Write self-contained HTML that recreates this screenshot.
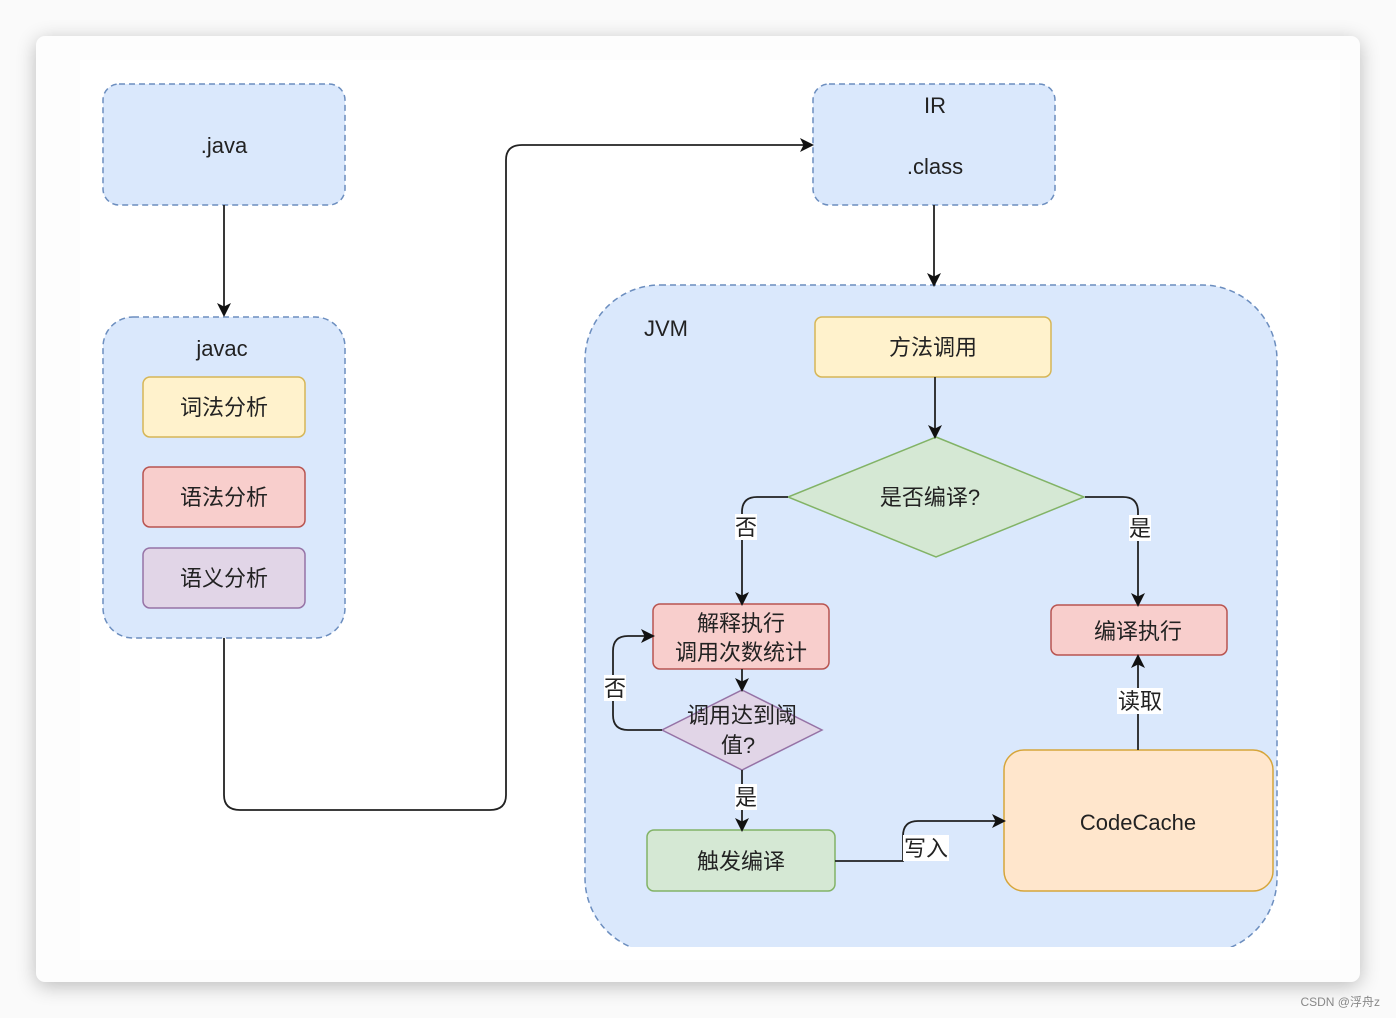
<!DOCTYPE html>
<html><head><meta charset="utf-8"><style>
html,body{margin:0;padding:0;background:#fff;}
svg{display:block;}
text{font-family:"Liberation Sans","Noto Sans CJK SC",sans-serif;fill:#222;}
</style></head><body>
<svg width="1396" height="1018" viewBox="0 0 1396 1018" xmlns="http://www.w3.org/2000/svg">
<defs>
<filter id="sh" x="-5%" y="-5%" width="110%" height="110%"><feGaussianBlur stdDeviation="10"/></filter>
<marker id="ar" markerWidth="14" markerHeight="14" refX="12" refY="7" orient="auto" markerUnits="userSpaceOnUse"><path d="M0,0 L14,7 L0,14 L3.5,7 Z" fill="#111"/></marker>
<clipPath id="cl"><rect x="0" y="0" width="1396" height="947"/></clipPath>
</defs>
<rect x="0" y="0" width="1396" height="1018" fill="#fafafa"/>
<rect x="36" y="40" width="1324" height="946" rx="10" fill="#000" opacity="0.25" filter="url(#sh)"/>
<rect x="36" y="36" width="1324" height="946" rx="9" fill="#fdfdfd"/>
<rect x="80" y="60" width="1260" height="900" fill="#fff"/>
<text x="1380" y="1006" font-size="12" text-anchor="end" style="fill:#888">CSDN @浮舟z</text>

<g stroke="#6c8ebf" stroke-width="1.5" stroke-dasharray="6,4" fill="#dae8fc">
<rect x="103" y="84" width="242" height="121" rx="16"/>
<rect x="103" y="317" width="242" height="321" rx="30"/>
<rect x="813" y="84" width="242" height="121" rx="16"/>
<rect x="585" y="285" width="692" height="668" rx="75" clip-path="url(#cl)"/>
</g>
<g font-size="22" text-anchor="middle">
<text x="224" y="153">.java</text>
<text x="222" y="356">javac</text>
<text x="935" y="113">IR</text>
<text x="935" y="174">.class</text>
<text x="666" y="336">JVM</text>
</g>

<g stroke-width="1.5">
<rect x="143" y="377" width="162" height="60" rx="7" fill="#fff2cc" stroke="#d6b656"/>
<rect x="143" y="467" width="162" height="60" rx="7" fill="#f8cecc" stroke="#b85450"/>
<rect x="143" y="548" width="162" height="60" rx="7" fill="#e1d5e7" stroke="#9673a6"/>
<rect x="815" y="317" width="236" height="60" rx="7" fill="#fff2cc" stroke="#d6b656"/>
<polygon points="936,437 1084,497 936,557 788,497" fill="#d5e8d4" stroke="#82b366"/>
<rect x="653" y="604" width="176" height="65" rx="7" fill="#f8cecc" stroke="#b85450"/>
<rect x="1051" y="605" width="176" height="50" rx="7" fill="#f8cecc" stroke="#b85450"/>
<polygon points="742,690 822,730 742,770 662,730" fill="#e1d5e7" stroke="#9673a6"/>
<rect x="647" y="830" width="188" height="61" rx="7" fill="#d5e8d4" stroke="#82b366"/>
<rect x="1004" y="750" width="269" height="141" rx="20" fill="#ffe6cc" stroke="#d6a53a"/>
</g>

<g font-size="22" text-anchor="middle">
<text x="224" y="415">词法分析</text>
<text x="224" y="505">语法分析</text>
<text x="224" y="586">语义分析</text>
<text x="933" y="355">方法调用</text>
<text x="930" y="505">是否编译?</text>
<text x="741" y="631">解释执行</text>
<text x="741" y="660">调用次数统计</text>
<text x="1138" y="639">编译执行</text>
<text x="742" y="723">调用达到阈</text>
<text x="738" y="753">值?</text>
<text x="741" y="869">触发编译</text>
<text x="1138" y="830">CodeCache</text>
</g>

<g stroke="#222" stroke-width="1.8" fill="none">
<path d="M224,205 V315" marker-end="url(#ar)"/>
<path d="M224,638 V795 Q224,810 240,810 H490 Q506,810 506,795 V160 Q506,145 522,145 H812" marker-end="url(#ar)"/>
<path d="M934,205 V285" marker-end="url(#ar)"/>
<path d="M935,377 V437" marker-end="url(#ar)"/>
<path d="M788,497 H757 Q742,497 742,512 V604" marker-end="url(#ar)"/>
<path d="M1085,497 H1123 Q1138,497 1138,512 V605" marker-end="url(#ar)"/>
<path d="M742,669 V690" marker-end="url(#ar)"/>
<path d="M662,730 H628 Q613,730 613,715 V651 Q613,636 628,636 H653" marker-end="url(#ar)"/>
<path d="M742,770 V830" marker-end="url(#ar)"/>
<path d="M835,861 H903 V836 Q903,821 918,821 H1004" marker-end="url(#ar)"/>
<path d="M1138,750 V656" marker-end="url(#ar)"/>
</g>

<g font-size="22" text-anchor="middle">
<rect x="735" y="514" width="22" height="26" fill="#fff"/><text x="746" y="535">否</text>
<rect x="1129" y="515" width="22" height="26" fill="#fff"/><text x="1140" y="536">是</text>
<rect x="604" y="675" width="22" height="26" fill="#fff"/><text x="615" y="696">否</text>
<rect x="735" y="784" width="22" height="26" fill="#fff"/><text x="746" y="805">是</text>
<rect x="903" y="835" width="46" height="26" fill="#fff"/><text x="926" y="856">写入</text>
<rect x="1117" y="688" width="46" height="26" fill="#fff"/><text x="1140" y="709">读取</text>
</g>
</svg>
</body></html>
